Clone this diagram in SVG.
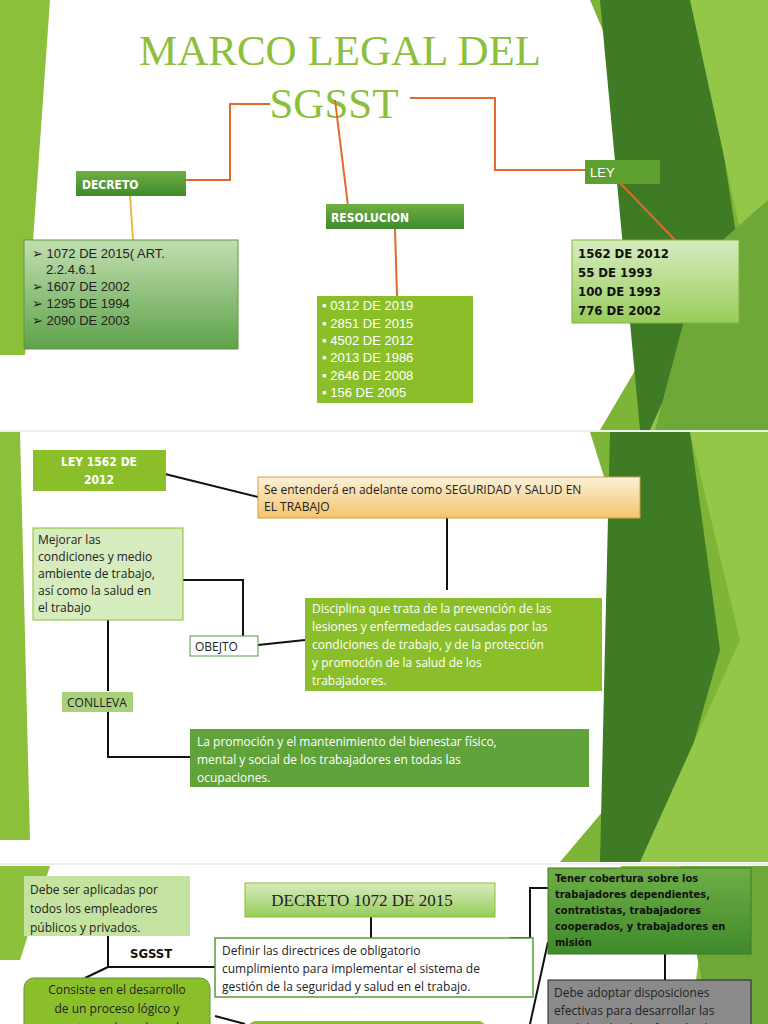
<svg xmlns="http://www.w3.org/2000/svg" width="768" height="1024" viewBox="0 0 768 1024">
<defs>
<style>
.t{font-family:"Open Sans","DejaVu Sans",sans-serif;font-size:12px;fill:#222}
.tn{font-family:"Liberation Sans Narrow","Liberation Sans",sans-serif;font-size:13px;fill:#222}
.tb{font-family:"DejaVu Sans Condensed","DejaVu Sans",sans-serif;font-size:12px;font-weight:bold;fill:#111}
.w{fill:#fff}
.o{stroke:#e06a2a;stroke-width:2;fill:none}
.k{stroke:#111;stroke-width:2;fill:none}
</style>
<linearGradient id="g1" x1="0" y1="0" x2="0" y2="1"><stop offset="0" stop-color="#c2dfb0"/><stop offset="1" stop-color="#5ea24a"/></linearGradient>
<linearGradient id="g2" x1="0" y1="0" x2="0" y2="1"><stop offset="0" stop-color="#fbf1d8"/><stop offset="1" stop-color="#f3c46b"/></linearGradient>
<linearGradient id="g4" x1="0" y1="0" x2="0" y2="1"><stop offset="0" stop-color="#d8ecc0"/><stop offset="1" stop-color="#98cc5a"/></linearGradient>
<linearGradient id="g5" x1="0" y1="0" x2="0" y2="1"><stop offset="0" stop-color="#6fae45"/><stop offset="1" stop-color="#3f8a2c"/></linearGradient>
</defs>
<rect width="768" height="1024" fill="#fff"/>
<g id="bg">
<polygon points="0,0 50,0 25,355 0,355" fill="#8cc03a"/>
<polygon points="590,0 768,0 768,430 600,430 700,260" fill="#7fb536"/>
<polygon points="600,0 700,0 740,260 680,430 640,430" fill="#3f7a25"/>
<polygon points="690,0 768,0 768,430 650,430 740,230" fill="#94c748"/>
<polygon points="700,260 768,200 768,430 655,430" fill="#6ea938"/>
<polygon points="0,432 20,432 30,840 0,840" fill="#8cc03a"/>
<polygon points="590,432 768,432 768,862 560,862 680,720" fill="#7fb536"/>
<polygon points="610,432 690,432 720,650 660,862 600,862" fill="#3f7a25"/>
<polygon points="690,432 768,432 768,862 640,862 740,640" fill="#94c748"/>
<polygon points="0,866 50,866 20,960 0,960" fill="#8cc03a"/>
<polygon points="620,866 768,866 768,1024 690,1024 700,950" fill="#8cc03a"/>
<polygon points="680,866 768,866 768,1024 710,1024" fill="#6ea938"/>
<line x1="0" y1="431" x2="768" y2="431" stroke="#ddd"/>
<line x1="0" y1="864" x2="768" y2="864" stroke="#ddd"/>
</g>
<g id="title"><text x="340" y="65" text-anchor="middle" font-family="Liberation Serif,serif" font-size="43" fill="#8cc03a">MARCO LEGAL DEL</text><text x="334" y="118" text-anchor="middle" font-family="Liberation Serif,serif" font-size="43" fill="#8cc03a">SGSST</text></g>
<g id="connectors">
<polyline class="o" points="185,180 230,180 230,104 270,104"/>
<line class="o" x1="335" y1="100" x2="348" y2="206"/>
<polyline class="o" points="410,98 495,98 495,170 585,170"/>
<line x1="130" y1="195" x2="133" y2="240" stroke="#e8b84a" stroke-width="2"/>
<line class="o" x1="395" y1="228" x2="397" y2="296"/>
<line class="o" x1="620" y1="183" x2="675" y2="240"/>
<line class="k" x1="165" y1="474" x2="258" y2="497"/>
<line class="k" x1="447" y1="517" x2="447" y2="590"/>
<polyline class="k" points="183,580 243,580 243,636"/>
<line class="k" x1="258" y1="645" x2="305" y2="640"/>
<line class="k" x1="108" y1="620" x2="108" y2="691"/>
<polyline class="k" points="108,712 108,757 190,757"/>
<line class="k" x1="371" y1="917" x2="371" y2="938"/>
<line class="k" x1="108" y1="936" x2="108" y2="967"/>
<line class="k" x1="108" y1="967" x2="215" y2="967"/>
<line class="k" x1="108" y1="967" x2="85" y2="978"/>
<polyline class="k" points="510,938 530,938 530,888 548,888"/>
<line class="k" x1="665" y1="953" x2="665" y2="980"/>
<line class="k" x1="215" y1="1016" x2="245" y2="1024"/>
<line class="k" x1="530" y1="1024" x2="548" y2="942"/>
</g>
<g id="n-decreto"><rect x="76" y="171" width="110" height="25" fill="url(#g5)"/><text class="tb" x="82" y="189" style="fill:#fff">DECRETO</text></g>
<g id="n-decreto-list"><rect x="24" y="240" width="214" height="109" fill="url(#g1)" stroke="#5a9a3a"/>
<text class="tn"><tspan x="32" y="258">➢ 1072 DE 2015( ART.</tspan><tspan x="46" y="274">2.2.4.6.1</tspan><tspan x="32" y="291">➢ 1607 DE 2002</tspan><tspan x="32" y="308">➢ 1295 DE 1994</tspan><tspan x="32" y="325">➢ 2090 DE 2003</tspan></text></g>
<g id="n-resolucion"><rect x="326" y="204" width="138" height="25" fill="url(#g5)"/><text class="tb" x="331" y="222" style="fill:#fff">RESOLUCION</text></g>
<g id="n-res-list"><rect x="317" y="296" width="156" height="107" fill="#8bbf2a"/>
<text class="tn" style="fill:#fff"><tspan x="322" y="310">▪  0312 DE 2019</tspan><tspan x="322" y="328">▪  2851 DE 2015</tspan><tspan x="322" y="345">▪  4502 DE 2012</tspan><tspan x="322" y="362">▪  2013 DE 1986</tspan><tspan x="322" y="380">▪  2646 DE 2008</tspan><tspan x="322" y="397">▪  156 DE 2005</tspan></text></g>
<g id="n-ley"><rect x="585" y="160" width="75" height="24" fill="#5ea02f"/><text class="tn" x="590" y="177" style="fill:#fff">LEY</text></g>
<g id="n-ley-list"><rect x="572" y="240" width="167" height="83" fill="url(#g4)" stroke="#7fb536"/>
<text class="tb" style="font-size:13px"><tspan x="578" y="258">1562 DE 2012</tspan><tspan x="578" y="277">55 DE 1993</tspan><tspan x="578" y="296">100 DE 1993</tspan><tspan x="578" y="315">776 DE 2002</tspan></text></g>
<g id="n-ley1562"><rect x="33" y="450" width="133" height="41" fill="#8bbf2a"/><text class="tb" style="fill:#fff" text-anchor="middle"><tspan x="99" y="466">LEY 1562 DE</tspan><tspan x="99" y="484">2012</tspan></text></g>
<g id="n-se"><rect x="258" y="477" width="382" height="41" fill="url(#g2)" stroke="#d4a040"/><text class="t"><tspan x="264" y="494">Se entenderá en adelante como SEGURIDAD Y SALUD EN</tspan><tspan x="264" y="511">EL TRABAJO</tspan></text></g>
<g id="n-mejorar"><rect x="33" y="528" width="150" height="92" fill="#d6ebbe" stroke="#8bbf2a"/><text class="t"><tspan x="38" y="544">Mejorar las</tspan><tspan x="38" y="561">condiciones y medio</tspan><tspan x="38" y="578">ambiente de trabajo,</tspan><tspan x="38" y="595">así como la salud en</tspan><tspan x="38" y="612">el trabajo</tspan></text></g>
<g id="n-disciplina"><rect x="305" y="598" width="297" height="93" fill="#8bbf2a"/><text class="t" style="fill:#fff"><tspan x="312" y="613">Disciplina que trata de la prevención de las</tspan><tspan x="312" y="631">lesiones y enfermedades causadas por las</tspan><tspan x="312" y="649">condiciones de trabajo, y de la protección</tspan><tspan x="312" y="667">y promoción de la salud de los</tspan><tspan x="312" y="685">trabajadores.</tspan></text></g>
<g id="n-objeto"><rect x="190" y="636" width="68" height="20" fill="#fff" stroke="#5a9a3a"/><text class="t" x="195" y="651">OBEJTO</text></g>
<g id="n-conlleva"><rect x="62" y="692" width="71" height="20" fill="#a9d07a"/><text class="t" x="67" y="707">CONLLEVA</text></g>
<g id="n-promocion"><rect x="190" y="729" width="399" height="58" fill="#5fa33a"/><text class="t" style="fill:#fff"><tspan x="197" y="746">La promoción y el mantenimiento del bienestar físico,</tspan><tspan x="197" y="764">mental y social de los trabajadores en todas las</tspan><tspan x="197" y="782">ocupaciones.</tspan></text></g>
<g id="n-debe"><rect x="24" y="876" width="166" height="60" fill="#c4e3a0"/><text class="t"><tspan x="30" y="894">Debe ser aplicadas por</tspan><tspan x="30" y="913">todos los empleadores</tspan><tspan x="30" y="932">públicos y privados.</tspan></text></g>
<g id="n-decreto1072"><rect x="245" y="883" width="250" height="34" fill="url(#g4)" stroke="#8bbf2a"/><text x="362" y="906" text-anchor="middle" font-family="Liberation Serif,serif" font-size="17" fill="#222">DECRETO 1072 DE 2015</text></g>
<text id="l-sgsst" class="tb" x="130" y="958" style="font-size:13px">SGSST</text>
<g id="n-definir"><rect x="215" y="938" width="318" height="59" fill="#fff" stroke="#5a9a3a" stroke-width="1.5"/><text class="t"><tspan x="222" y="955">Definir las directrices de obligatorio</tspan><tspan x="222" y="973">cumplimiento para implementar el sistema de</tspan><tspan x="222" y="991">gestión de la seguridad y salud en el trabajo.</tspan></text></g>
<g id="n-consiste"><rect x="24" y="978" width="186" height="60" rx="10" fill="#8bbf2a" stroke="#5a9a3a"/><text class="t" text-anchor="middle"><tspan x="117" y="994">Consiste en el desarrollo</tspan><tspan x="117" y="1013">de un proceso lógico y</tspan><tspan x="117" y="1032">por etapas, basado en la</tspan></text></g>
<g id="n-bottom"><rect x="248" y="1021" width="238" height="20" rx="8" fill="#8bbf2a"/></g>
<g id="n-tener"><rect x="548" y="868" width="203" height="86" fill="url(#g5)" stroke="#3f7a25"/><text class="tb" style="font-size:11px"><tspan x="555" y="882">Tener cobertura sobre los</tspan><tspan x="555" y="898">trabajadores dependientes,</tspan><tspan x="555" y="914">contratistas, trabajadores</tspan><tspan x="555" y="930">cooperados, y trabajadores en</tspan><tspan x="555" y="946">misión</tspan></text></g>
<g id="n-adoptar"><rect x="548" y="980" width="203" height="60" fill="#8a8a8a" stroke="#222"/><text class="t"><tspan x="554" y="997">Debe adoptar disposiciones</tspan><tspan x="554" y="1015">efectivas para desarrollar las</tspan><tspan x="554" y="1033">medidas de identificación de</tspan></text></g>
</svg>
